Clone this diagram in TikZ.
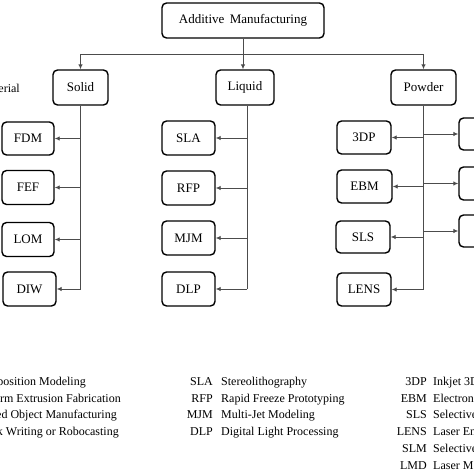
\documentclass[tikz,border=0pt]{standalone}
\usepackage{fontspec}
\setmainfont{Liberation Serif}
\usetikzlibrary{arrows.meta}
\begin{document}
\begin{tikzpicture}[x=1pt,y=-1pt,
  box/.style={draw=black, line width=1.4pt, rounded corners=4.5pt, inner sep=0pt,
    font=\fontsize{13}{15}\selectfont, minimum height=34pt},
  conn/.style={draw=black!70, line width=0.9pt},
  arr/.style={conn, -{Latex[length=5pt,width=4.5pt]}},
  leg/.style={font=\fontsize{12}{14}\selectfont, inner sep=0pt},
  legl/.style={leg, anchor=base west},
  legr/.style={leg, anchor=base east}]
\useasboundingbox (0,0) rectangle (474,474);
\clip (0,0) rectangle (474,474);
% top
\node[box, minimum width=162pt, minimum height=35pt] (am) at (243,20.5) {Additive\, Manufacturing};
\node[box, minimum width=55pt, minimum height=35pt] (solid) at (80.5,87.5) {Solid};
\node[box, minimum width=58pt, minimum height=35pt] (liquid) at (245,87.5) {Liquid};
\node[box, minimum width=65pt, minimum height=35pt] (powder) at (423.5,87.5) {Powder};
\node[leg, anchor=base east] (mat) at (20,92) {Material};
% solid column
\node[box, minimum width=52pt, minimum height=33pt] (fdm) at (28,138.5) {FDM};
\node[box, minimum width=52pt] (fef) at (28,187.5) {FEF};
\node[box, minimum width=52pt] (lom) at (28,239.5) {LOM};
\node[box, minimum width=53pt] (diw) at (29.5,289) {DIW};
% liquid column
\node[box, minimum width=53pt] (sla) at (188.5,138) {SLA};
\node[box, minimum width=53pt] (rfp) at (188.5,188) {RFP};
\node[box, minimum width=53pt, minimum height=34pt] (mjm) at (188.5,238) {MJM};
\node[box, minimum width=53pt] (dlp) at (188.5,289) {DLP};
% powder column
\node[box, minimum width=54pt, minimum height=33pt] (p3dp) at (364,137.5) {3DP};
\node[box, minimum width=55pt, minimum height=33pt] (ebm) at (364.5,186.5) {EBM};
\node[box, minimum width=54pt, minimum height=32pt] (sls) at (363,237) {SLS};
\node[box, minimum width=54pt, minimum height=33pt] (lens) at (364,289.5) {LENS};
\node[box, minimum width=42pt, minimum height=32pt] (r1) at (480,134) {};
\node[box, minimum width=42pt, minimum height=33pt] (r2) at (480,183.5) {};
\node[box, minimum width=42pt, minimum height=32pt] (r3) at (480,231) {};
% top connectors
\coordinate (hub) at (243,54);
\draw[arr] (am.south) -- (am.south |- liquid.north);
\draw[arr] (hub) -| (solid.north);
\draw[arr] (hub) -| (powder.north);
% solid connectors
\draw[conn] (solid.south) -- (solid.south |- diw.east);
\foreach \b in {fdm,fef,lom,diw} \draw[arr] (solid.south |- \b.east) -- (\b.east);
% liquid connectors
\coordinate (lq) at ([xshift=2pt]liquid.south);
\draw[conn] (lq) -- (lq |- dlp.east);
\foreach \b in {sla,rfp,mjm,dlp} \draw[arr] (lq |- \b.east) -- (\b.east);
% powder connectors
\draw[conn] (powder.south) -- (powder.south |- lens.east);
\foreach \b in {p3dp,ebm,sls,lens} \draw[arr] (powder.south |- \b.east) -- (\b.east);
\foreach \b in {r1,r2,r3} \draw[arr] (powder.south |- \b.west) -- (\b.west);
% legend left
\node[legr] (l1) at (86,385) {Fused Deposition Modeling};
\node[legr] (l2) at (121,402) {Freeform Extrusion Fabrication};
\node[legr] (l3) at (117,418) {Laminated Object Manufacturing};
\node[legr] (l4) at (119,435) {Direct Ink Writing or Robocasting};
% legend middle
\node[legr] (a1) at (213,385) {SLA};
\node[legr] (a2) at (213,402) {RFP};
\node[legr] (a3) at (213,418) {MJM};
\node[legr] (a4) at (213,435) {DLP};
\node[legl] (d1) at (221,385) {Stereolithography};
\node[legl] (d2) at (221,402) {Rapid Freeze Prototyping};
\node[legl] (d3) at (221,418) {Multi-Jet Modeling};
\node[legl] (d4) at (221,435) {Digital Light Processing};
% legend right
\node[legr] (b1) at (427,385) {3DP};
\node[legr] (b2) at (427,402) {EBM};
\node[legr] (b3) at (427,418) {SLS};
\node[legr] (b4) at (427,435) {LENS};
\node[legr] (b5) at (427,452) {SLM};
\node[legr] (b6) at (427,469) {LMD};
\node[legl] (e1) at (433,385) {Inkjet 3D Printing};
\node[legl] (e2) at (433,402) {Electron Beam Melting};
\node[legl] (e3) at (433,418) {Selective Laser Sintering};
\node[legl] (e4) at (433,435) {Laser Engineered Net Shaping};
\node[legl] (e5) at (433,452) {Selective Laser Melting};
\node[legl] (e6) at (433,469) {Laser Metal Deposition};
\end{tikzpicture}
\end{document}
